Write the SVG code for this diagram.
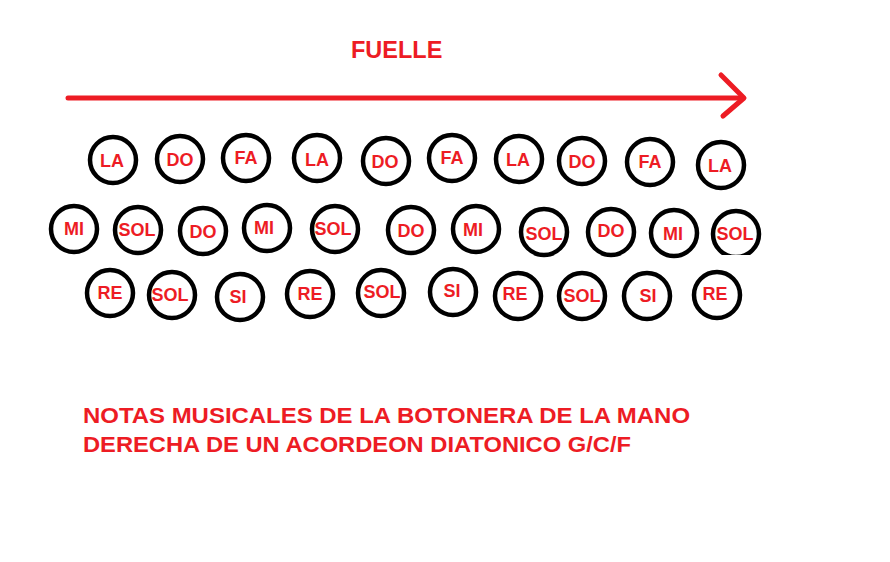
<svg xmlns="http://www.w3.org/2000/svg" width="890" height="562" viewBox="0 0 890 562">
<defs>
<style>
.k{fill:none;stroke:#000;stroke-width:4.5}
.t{fill:#ED1C24;font-family:"Liberation Sans",Arial,sans-serif;font-weight:bold;font-size:18px;text-anchor:middle}
.h{fill:#ED1C24;font-family:"Liberation Sans",Arial,sans-serif;font-weight:bold}
</style>
<clipPath id="cl"><rect x="700" y="200" width="80" height="55"/></clipPath>
</defs>
<rect width="890" height="562" fill="#fff"/>
<text class="h" x="351" y="58" font-size="23.5">FUELLE</text>
<g id="connectors">
<line x1="68" y1="98" x2="742" y2="98" stroke="#ED1C24" stroke-width="5" stroke-linecap="round"/>
<polyline points="721,75 744,98 723,116" fill="none" stroke="#ED1C24" stroke-width="5" stroke-linecap="round" stroke-linejoin="round"/>
</g>
<g id="row1">
<g id="b1"><circle class="k" cx="113" cy="160" r="23"/><text class="t" x="112" y="167">LA</text></g>
<g id="b2"><circle class="k" cx="180" cy="159" r="23"/><text class="t" x="180" y="166">DO</text></g>
<g id="b3"><circle class="k" cx="246" cy="158" r="23"/><text class="t" x="246" y="164">FA</text></g>
<g id="b4"><circle class="k" cx="317" cy="158" r="23"/><text class="t" x="317" y="166">LA</text></g>
<g id="b5"><circle class="k" cx="386" cy="161" r="23"/><text class="t" x="385" y="168">DO</text></g>
<g id="b6"><circle class="k" cx="452" cy="158" r="23"/><text class="t" x="452" y="164">FA</text></g>
<g id="b7"><circle class="k" cx="519" cy="159" r="23"/><text class="t" x="518" y="166">LA</text></g>
<g id="b8"><circle class="k" cx="582" cy="161" r="23"/><text class="t" x="582" y="168">DO</text></g>
<g id="b9"><circle class="k" cx="650" cy="162" r="23"/><text class="t" x="650" y="168">FA</text></g>
<g id="b10"><circle class="k" cx="721" cy="165" r="23"/><text class="t" x="720" y="172">LA</text></g>
</g>
<g id="row2">
<g id="c1"><circle class="k" cx="74" cy="229" r="23"/><text class="t" x="74" y="235">MI</text></g>
<g id="c2"><circle class="k" cx="138" cy="230" r="23"/><text class="t" x="137" y="236">SOL</text></g>
<g id="c3"><circle class="k" cx="203" cy="231" r="23"/><text class="t" x="203" y="238">DO</text></g>
<g id="c4"><circle class="k" cx="267" cy="228" r="23"/><text class="t" x="264" y="234">MI</text></g>
<g id="c5"><circle class="k" cx="335" cy="229" r="23"/><text class="t" x="333" y="235">SOL</text></g>
<g id="c6"><circle class="k" cx="411" cy="230" r="23"/><text class="t" x="411" y="237">DO</text></g>
<g id="c7"><circle class="k" cx="476" cy="229" r="23"/><text class="t" x="473" y="236">MI</text></g>
<g id="c8"><circle class="k" cx="544" cy="232" r="23"/><text class="t" x="544" y="240">SOL</text></g>
<g id="c9"><circle class="k" cx="611" cy="232" r="23"/><text class="t" x="611" y="237">DO</text></g>
<g id="c10"><circle class="k" cx="674" cy="233" r="23"/><text class="t" x="673" y="240">MI</text></g>
<g id="c11"><circle class="k" cx="736" cy="234" r="23" clip-path="url(#cl)"/><text class="t" x="735" y="240">SOL</text></g>
</g>
<g id="row3">
<g id="d1"><circle class="k" cx="110" cy="293" r="23"/><text class="t" x="110" y="299">RE</text></g>
<g id="d2"><circle class="k" cx="172" cy="295" r="23"/><text class="t" x="170" y="301">SOL</text></g>
<g id="d3"><circle class="k" cx="240" cy="297" r="23"/><text class="t" x="238" y="303">SI</text></g>
<g id="d4"><circle class="k" cx="310" cy="294" r="23"/><text class="t" x="310" y="300">RE</text></g>
<g id="d5"><circle class="k" cx="381" cy="293" r="23"/><text class="t" x="382" y="298">SOL</text></g>
<g id="d6"><circle class="k" cx="453" cy="292" r="23"/><text class="t" x="452" y="297">SI</text></g>
<g id="d7"><circle class="k" cx="518" cy="296" r="23"/><text class="t" x="515" y="300">RE</text></g>
<g id="d8"><circle class="k" cx="582" cy="296" r="23"/><text class="t" x="582" y="302">SOL</text></g>
<g id="d9"><circle class="k" cx="647" cy="296" r="23"/><text class="t" x="648" y="302">SI</text></g>
<g id="d10"><circle class="k" cx="717" cy="295" r="23"/><text class="t" x="715" y="300">RE</text></g>
</g>
<text class="h" x="83" y="423" font-size="22.5" textLength="607" lengthAdjust="spacingAndGlyphs">NOTAS MUSICALES DE LA BOTONERA DE LA MANO</text>
<text class="h" x="83" y="452" font-size="22.5" textLength="548" lengthAdjust="spacingAndGlyphs">DERECHA DE UN ACORDEON DIATONICO G/C/F</text>
</svg>
